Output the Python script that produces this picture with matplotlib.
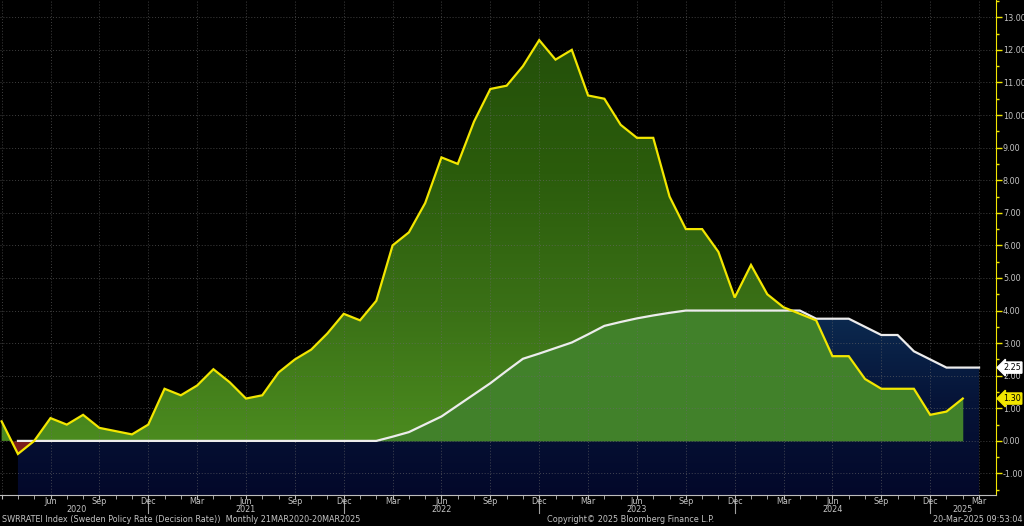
import numpy as np
import matplotlib
matplotlib.use('Agg')
import matplotlib.pyplot as plt
from matplotlib.path import Path
from matplotlib.patches import PathPatch
from matplotlib.colors import LinearSegmentedColormap
from matplotlib.transforms import blended_transform_factory

# Swedish CPI YoY (yellow), Mar 2020 .. Feb 2025
cpi = [0.6, -0.4, 0.0, 0.7, 0.5, 0.8, 0.4, 0.3, 0.2, 0.5,
       1.6, 1.4, 1.7, 2.2, 1.8, 1.3, 1.4, 2.1, 2.5, 2.8, 3.3, 3.9,
       3.7, 4.3, 6.0, 6.4, 7.3, 8.7, 8.5, 9.8, 10.8, 10.9, 11.5, 12.3,
       11.7, 12.0, 10.6, 10.5, 9.7, 9.3, 9.3, 7.5, 6.5, 6.5, 5.8, 4.4,
       5.4, 4.5, 4.1, 3.9, 3.7, 2.6, 2.6, 1.9, 1.6, 1.6, 1.6, 0.8,
       0.9, 1.3]
# Riksbank policy rate (white), Apr 2020 .. Mar 2025
policy = [0.0] * 23 + [0.13, 0.27, 0.51, 0.75, 1.09, 1.43, 1.77, 2.15, 2.52,
                       2.68, 2.85, 3.02, 3.27, 3.53, 3.65, 3.76, 3.85, 3.93, 4.0] \
         + [4.0] * 7 + [3.75, 3.75, 3.75, 3.5, 3.25, 3.25, 2.75, 2.5, 2.25, 2.25, 2.25]

month_names = ['Jan', 'Feb', 'Mar', 'Apr', 'May', 'Jun', 'Jul', 'Aug', 'Sep', 'Oct', 'Nov', 'Dec']
start_month = 3
years = ['2020', '2021', '2022', '2023', '2024', '2025']
year_pos = [4.6, 15, 27, 39, 51, 59]

cpi = np.array(cpi)
policy = np.array(policy)
x_cpi = np.arange(len(cpi))
x_pol = np.arange(1, len(policy) + 1)

YMIN, YMAX = -1.66, 13.53
XMIN, XMAX = -0.1, 61.04
fkw = dict(family='DejaVu Sans', stretch='condensed', fontsize=6.5, color='#c4c4c4')

fig = plt.figure(figsize=(10.24, 5.26), dpi=100, facecolor='black')
ax = fig.add_axes([0, 31 / 526, 996 / 1024, 495 / 526])
ax.set_facecolor('black')


def grad_fill(path, colors, lo, hi, z):
    cmap = LinearSegmentedColormap.from_list('g', colors)
    im = ax.imshow(np.linspace(0, 1, 256).reshape(-1, 1), cmap=cmap, origin='lower',
                   extent=[XMIN, XMAX, lo, hi], aspect='auto', zorder=z,
                   interpolation='bilinear')
    patch = PathPatch(path, transform=ax.transData, fc='none', ec='none')
    ax.add_patch(patch)
    im.set_clip_path(patch)


def poly_path(coll):
    p = Path.make_compound_path(*coll.get_paths())
    coll.remove()
    return p


# navy area under policy rate
c = ax.fill_between(x_pol, YMIN, policy)
grad_fill(poly_path(c), ['#03082a', '#061438', '#0c2c52'], YMIN, 4.1, 1)

# green area under CPI
c = ax.fill_between(x_cpi, 0, cpi, where=cpi >= 0, interpolate=True)
grad_fill(poly_path(c), ['#4b8b1f', '#3a7016', '#2b5c0c', '#24500a'], 0, 12.3, 2)

# lighter green where CPI overlaps the policy-rate area
low = np.clip(np.minimum(cpi[1:], policy[:-1]), 0, None)
ax.fill_between(x_cpi[1:], 0, low, color='#41812a', lw=0, zorder=2.5)

# red area where CPI is negative
ax.fill_between(x_cpi, 0, cpi, where=cpi < 0, interpolate=True, color='#7a1c1c', lw=0, zorder=2.6)

# dotted grid
for yv in range(-1, 14):
    ax.axhline(yv, color='#6a6a6a', lw=0.7, ls=(0, (1, 2)), alpha=0.6, zorder=3)
for xv in range(0, 61, 3):
    ax.axvline(xv, color='#6a6a6a', lw=0.7, ls=(0, (1, 2)), alpha=0.6, zorder=3)

ax.plot(x_pol, policy, color='#ececec', lw=1.6, zorder=4, solid_joinstyle='miter')
ax.plot(x_cpi, cpi, color='#f2e600', lw=1.6, zorder=5, solid_joinstyle='miter')

ax.set_xlim(XMIN, XMAX)
ax.set_ylim(YMIN, YMAX)

# y axis on right
ax.yaxis.tick_right()
ax.set_yticks(range(-1, 14))
ax.set_yticklabels(['%.2f' % v for v in range(-1, 14)], **fkw)
ax.set_yticks(np.arange(-1.5, 13.6, 1.0), minor=True)
ax.tick_params(axis='y', which='major', colors='#f2e600', labelcolor='#c4c4c4', length=4, width=1, pad=1)
ax.tick_params(axis='y', which='minor', colors='#f2e600', length=2, width=1)
for s in ['left', 'top']:
    ax.spines[s].set_visible(False)
ax.spines['right'].set_color('#f2e600')
ax.spines['bottom'].set_color('#bdbdbd')

# x axis: monthly ticks, labels every quarter drawn as texts
ax.set_xticks(range(0, 61, 3))
ax.set_xticklabels([])
ax.set_xticks(range(0, 61), minor=True)
ax.tick_params(axis='x', which='both', colors='#bdbdbd', length=3)

tr = blended_transform_factory(ax.transData, fig.transFigure)
for m in range(3, 61, 3):
    ax.text(m, 1 - 501 / 526, month_names[(start_month - 1 + m) % 12], transform=tr,
            ha='center', va='center', clip_on=False, **fkw)
for yr, xp in zip(years, year_pos):
    ax.text(xp, 1 - 510 / 526, yr, transform=tr, ha='center', va='center', clip_on=False, **fkw)
for m in range(9, 61, 12):
    ax.plot([m, m], [1 - 498 / 526, 1 - 513 / 526], transform=tr, color='#a0a0a0', lw=0.8, clip_on=False)

# last value labels
tr2 = blended_transform_factory(ax.transAxes, ax.transData)
for val, col in [(policy[-1], 'white'), (cpi[-1], '#f2e600')]:
    ax.annotate('%.2f' % val, xy=(1.0, val), xycoords=tr2, xytext=(5, 0),
                textcoords='offset points', va='center', ha='left',
                family='DejaVu Sans', stretch='condensed', fontsize=6.5, color='black',
                bbox=dict(boxstyle='larrow,pad=0.12', fc=col, ec=col),
                annotation_clip=False, zorder=6)

# footer
fy = 1 - 520 / 526
fig.text(0.002, fy, 'SWRRATEI Index (Sweden Policy Rate (Decision Rate))  Monthly 21MAR2020-20MAR2025',
         va='center', ha='left', **fkw)
fig.text(631 / 1024, fy, 'Copyright\u00a9 2025 Bloomberg Finance L.P.', va='center', ha='center', **fkw)
fig.text(0.999, fy, '20-Mar-2025 09:53:04', va='center', ha='right', **fkw)

fig.savefig('out.png', dpi=100, facecolor='black')
